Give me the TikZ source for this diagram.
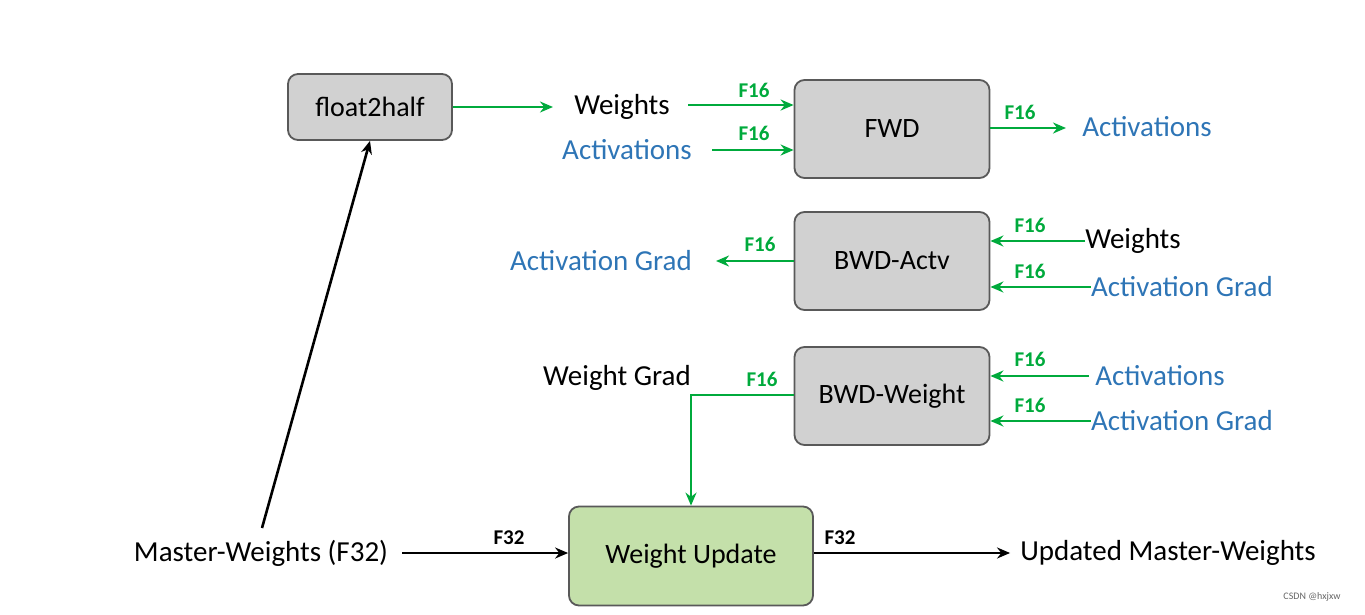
\documentclass[tikz,border=0pt]{standalone}
\usepackage{fontspec}
\usetikzlibrary{arrows.meta}
\setmainfont{Carlito}
\definecolor{bl}{RGB}{46,117,182}
\definecolor{gr}{RGB}{0,170,60}
\begin{document}
\begin{tikzpicture}[x=1pt,y=-1pt,
 box/.style={draw=black!65,line width=1.8pt,fill=black!18,rounded corners=10pt,font=\fontsize{28}{32}\selectfont},
 txt/.style={font=\fontsize{29}{33}\selectfont,inner sep=0pt},
 blu/.style={txt,text=bl},
 lab/.style={font=\bfseries\fontsize{21}{24}\selectfont,text=gr,inner sep=0pt},
 g/.style={draw=gr,line width=2.6pt,-{Stealth[length=13pt,width=11pt]}},
 k/.style={draw=black,line width=2.6pt,-{Stealth[length=13pt,width=11pt]}}]
\useasboundingbox (0,0) rectangle (1365,614);
\node[box,minimum width=164pt,minimum height=66pt] (f2h) at (370,107) {float2half};
\node[box,minimum width=195pt,minimum height=98pt] (fwd) at (892,129) {FWD};
\node[box,minimum width=195pt,minimum height=98pt] (ba) at (892,261) {BWD-Actv};
\node[box,minimum width=195pt,minimum height=98pt] (bw) at (892,396) {BWD-Weight};
\node[box,fill={rgb,255:red,196;green,224;blue,170},minimum width=244pt,minimum height=99pt] (wu) at (691,556) {Weight Update};

\node[txt] (w1) at (622,107) {Weights};
\node[blu] (a1) at (627,150) {Activations};
\node[blu] (a2) at (1147,127) {Activations};
\node[blu] (ag1) at (601,261) {Activation Grad};
\node[txt] (w2) at (1133,241) {Weights};
\node[blu] (ag2) at (1182,287) {Activation Grad};
\node[blu] (a3) at (1160,376) {Activations};
\node[blu] (ag3) at (1182,421) {Activation Grad};
\node[txt] (wg) at (617,378) {Weight Grad};
\node[txt] (mw) at (261,553) {Master-Weights (F32)};
\node[txt] (umw) at (1168,553) {Updated Master-Weights};
\node[font=\fontsize{10}{12}\selectfont,text=black!60] (wm) at (1312,597) {CSDN @hxjxw};

\coordinate (p1) at (553,107);
\draw[g] (f2h.east) -- (p1);
\draw[g] (688,105) -- (fwd.west|-0,105);
\node[lab] at (754,90) {F16};
\draw[g] (712,150) -- (fwd.west|-0,150);
\node[lab] at (754,133) {F16};
\coordinate (p2) at (1066,128);
\draw[g] (fwd.east|-0,128) -- (p2);
\node[lab] at (1020,112) {F16};
\coordinate (p3) at (716,261);
\draw[g] (ba.west) -- (p3);
\node[lab] at (760,244) {F16};
\draw[g] (w2.west|-0,241) -- (ba.east|-0,241);
\node[lab] at (1030,225) {F16};
\draw[g] (ag2.west|-0,287) -- (ba.east|-0,287);
\node[lab] at (1030,271) {F16};
\draw[g] (a3.west|-0,376) ++(-6,0) -- (bw.east|-0,376);
\node[lab] at (1030,359) {F16};
\draw[g] (ag3.west|-0,421) -- (bw.east|-0,421);
\node[lab] at (1030,405) {F16};
\draw[g] (bw.west|-0,395) -| (wu.north);
\node[lab] at (762,379) {F16};
\draw[k] (mw.east) ++(14,0) -- (wu.west|-0,553);
\node[lab,text=black] at (509,538) {F32};
\draw[k] (wu.east|-0,553) -- ([xshift=-10pt]umw.west);
\node[lab,text=black] at (840,538) {F32};
\draw[k] (262,528) -- (f2h.south);
\end{tikzpicture}
\end{document}
